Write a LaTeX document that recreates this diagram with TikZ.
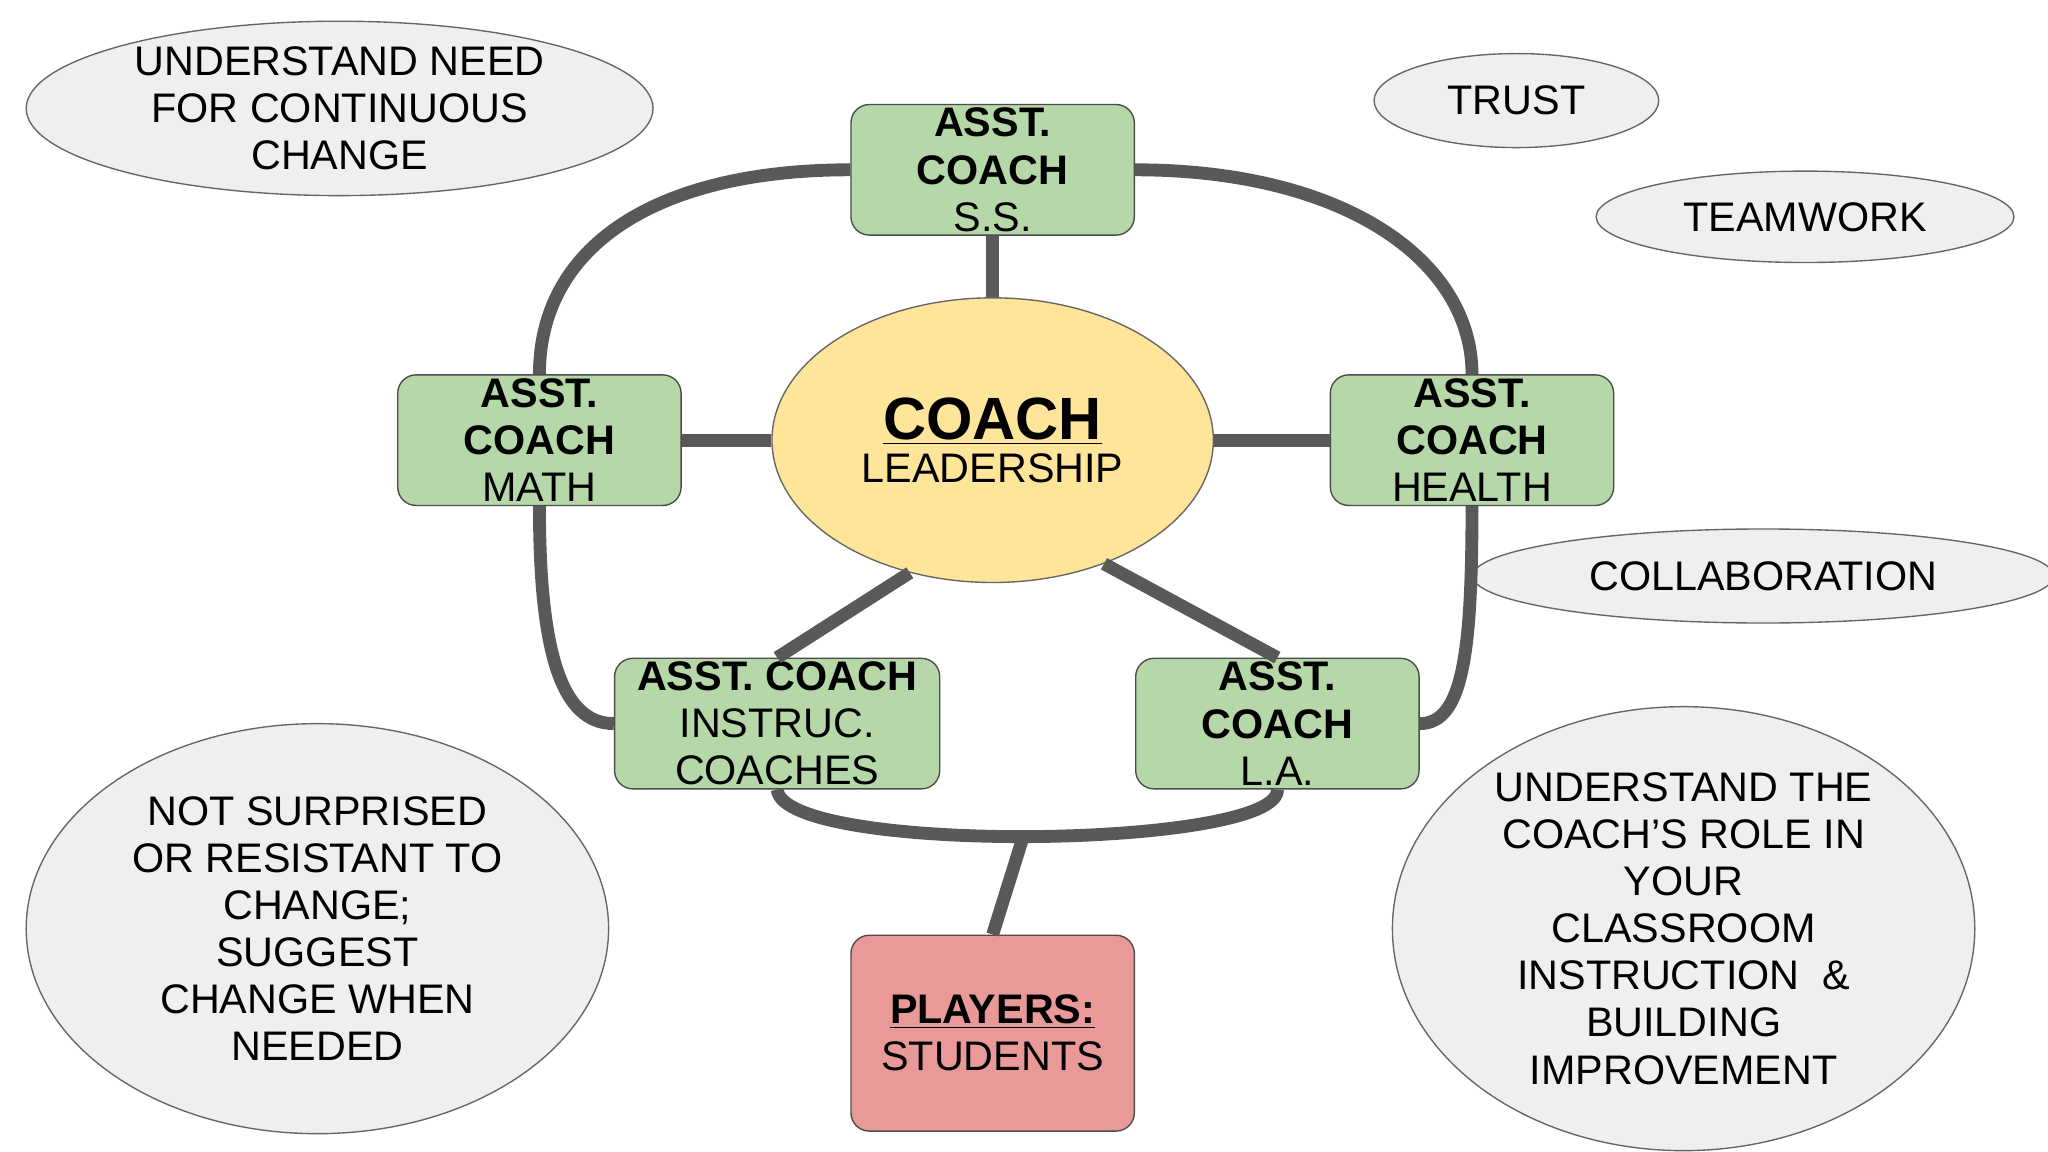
\documentclass[tikz,border=0pt]{standalone}
\usepackage{fontspec}
\setmainfont{Liberation Sans}
\usetikzlibrary{shapes.geometric}
\definecolor{boxg}{HTML}{B6D7A8}
\definecolor{ylw}{HTML}{FFE599}
\definecolor{pnk}{HTML}{EA9999}
\definecolor{gr}{HTML}{EFEFEF}
\definecolor{ln}{HTML}{595959}
\begin{document}
\begin{tikzpicture}[x=0.02cm,y=-0.02cm,
  txt/.style={font=\fontsize{18}{20.5}\selectfont,align=center,text=black},
  oval/.style={txt,ellipse,draw=black!60,fill=gr,line width=0.6pt,inner sep=0pt},
  box/.style={txt,draw=black!70,fill=boxg,rounded corners=8pt,line width=0.6pt,minimum width=4.34cm,minimum height=2cm,inner sep=0pt},
  con/.style={ln,line width=5.6pt}]
\useasboundingbox (0,0) rectangle (1568,882);
\node[oval,minimum width=9.6cm,minimum height=2.6cm] (e1) at (260,83) {UNDERSTAND NEED\\FOR CONTINUOUS\\CHANGE};
\node[oval,minimum width=4.36cm,minimum height=1.44cm] (tr) at (1161,77) {TRUST};
\node[oval,minimum width=6.4cm,minimum height=1.4cm] (tw) at (1382,166) {TEAMWORK};
\node[oval,minimum width=8.9cm,minimum height=1.44cm] (co) at (1350,441) {COLLABORATION};
\node[oval,minimum width=8.92cm,minimum height=6.28cm] (ns) at (243,711) {NOT SURPRISED\\OR RESISTANT TO\\CHANGE;\\SUGGEST\\CHANGE WHEN\\NEEDED};
\node[oval,minimum width=8.92cm,minimum height=6.8cm] (ur) at (1289,711) {UNDERSTAND THE\\COACH’S ROLE IN\\YOUR\\CLASSROOM\\INSTRUCTION \ \&\\BUILDING\\IMPROVEMENT};
\node[txt,ellipse,draw=black!60,fill=ylw,line width=0.6pt,minimum width=6.76cm,minimum height=4.36cm,inner sep=0pt] (c) at (760,337)
  {{\fontsize{26}{28}\selectfont\bfseries\underline{COACH}}\\[-2pt]LEADERSHIP};
\node[box] (ss) at (760,130) {\textbf{ASST.}\\\textbf{COACH}\\S.S.};
\node[box] (ma) at (413,337) {\textbf{ASST.}\\\textbf{COACH}\\MATH};
\node[box] (he) at (1127,337) {\textbf{ASST.}\\\textbf{COACH}\\HEALTH};
\node[box,minimum width=4.98cm] (in) at (595,554) {\textbf{ASST. COACH}\\INSTRUC.\\COACHES};
\node[box] (la) at (978,554) {\textbf{ASST.}\\\textbf{COACH}\\L.A.};
\node[box,fill=pnk,minimum height=3cm] (pl) at (760,791) {\textbf{\underline{PLAYERS:}}\\STUDENTS};
\draw[con] (ss.south) -- (c.north);
\draw[con] (ma.east) -- (c.west);
\draw[con] (c.east) -- (he.west);
\draw[con] (c.-122) -- (in.north);
\draw[con] (c.-48) -- (la.north);
\draw[con] (ss.west) .. controls (500,130) and (413,190) .. (ma.north);
\draw[con] (ss.east) .. controls (1030,130) and (1127,200) .. (he.north);
\draw[con] (ma.south) .. controls (413,500) and (430,554) .. (in.west);
\draw[con] (he.south) .. controls (1127,500) and (1120,554) .. (la.east);
\draw[con] (in.south) .. controls (600,655) and (980,650) .. (la.south) coordinate[pos=0.49] (mid);
\draw[con] (mid) -- (pl.north);
\end{tikzpicture}
\end{document}
